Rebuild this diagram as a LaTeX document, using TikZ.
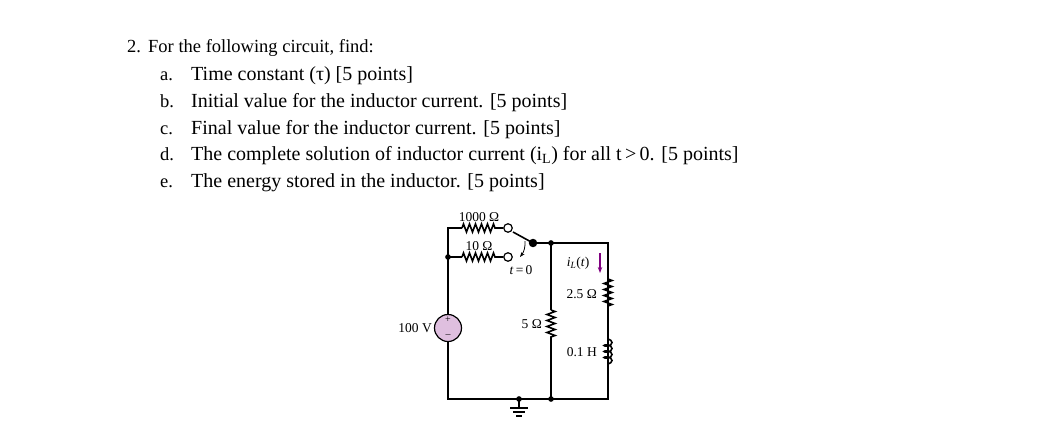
\documentclass[tikz,border=0pt]{standalone}
\usepackage{fontspec}
\setmainfont{Liberation Serif}
\usetikzlibrary{decorations.pathmorphing,arrows.meta}
\begin{document}
\begin{tikzpicture}[x=1pt,y=-1pt,
  txt/.style={anchor=base west,inner sep=0,font=\fontsize{18.5}{20}\selectfont},
  itm/.style={anchor=base west,inner sep=0,font=\fontsize{20}{22}\selectfont},
  lbl/.style={inner sep=1pt,font=\fontsize{13.5}{14}\selectfont},
  wire/.style={line width=1.6pt},
  res/.style={wire,decorate,decoration={zigzag,amplitude=4pt,segment length=6pt}},
  coilst/.style={wire,decorate,decoration={coil,aspect=0.5,amplitude=4pt,segment length=6pt}},
  dot/.style={circle,fill,inner sep=2pt},
  open/.style={circle,draw,line width=1.2pt,fill=white,inner sep=3pt}]
\useasboundingbox (0,0) rectangle (1048,423);
\node[txt] (q) at (127,52) {2.};
\node[txt] at (148,52) {For the following circuit, find:};
\node[txt] at (160,80) {a.};  \node[itm] at (191,80) {Time constant (\symbol{"03C4}) [5 points]};
\node[txt] at (160,107) {b.}; \node[itm] at (191,107) {Initial value for the inductor current. [5 points]};
\node[txt] at (160,134) {c.}; \node[itm] at (191,134) {Final value for the inductor current. [5 points]};
\node[txt] at (160,160) {d.}; \node[itm] at (191,160) {The complete solution of inductor current (i\textsubscript{L}) for all t\,>\,0. [5 points]};
\node[txt] at (160,187) {e.}; \node[itm] at (191,187) {The energy stored in the inductor. [5 points]};
% coordinates
\coordinate (tl) at (448,228);
\coordinate (ml) at (448,257);
\coordinate (bl) at (448,399);
\coordinate (sw) at (533,243);
\coordinate (tm) at (551,243);
\coordinate (bm) at (551,399);
\coordinate (tr) at (608,243);
\coordinate (br) at (608,399);
\coordinate (gnd) at (519,399);
\node[open] (c1) at (508,228) {};
\node[open] (c2) at (508,257) {};
\node[circle,draw,line width=1.2pt,fill=violet!25,minimum size=27pt,inner sep=0] (src) at (448,328) {};
\node[font=\fontsize{10}{10}\selectfont,inner sep=0] at (448,320) {+};
\node[font=\fontsize{10}{10}\selectfont,inner sep=0] at (448,336) {--};
\node[lbl,anchor=east] at (433,328) {100 V};
% wires
\draw[wire] (src.north) -- (tl) -- (462,228);
\draw[res] (462,228) -- (496,228);
\draw[wire] (496,228) -- (c1);
\draw[wire] (ml) -- (462,257);
\draw[res] (462,257) -- (496,257);
\draw[wire] (496,257) -- (c2);
\node[lbl] at (479,217) {1000 \symbol{"03A9}};
\node[lbl] at (479,246) {10 \symbol{"03A9}};
\draw[wire] (src.south) -- (bl) -- (br) -- (tr) -- (sw);
\node[dot,inner sep=3pt] at (sw) {};
\draw[wire] (sw) -- (513,232);
\draw[line width=0.8pt,-{Stealth[length=5pt]}] (525,241) to[bend left=20] (520,257);
\node[lbl] at (521,270) {\textit{t}\,=\,0};
\node[dot] at (ml) {};
\node[dot] at (tm) {};
\node[dot] at (bm) {};
\node[dot] at (gnd) {};
% 5 ohm
\draw[wire] (tm) -- (551,310);
\draw[res] (551,310) -- (551,338);
\draw[wire] (551,338) -- (bm);
\node[lbl,anchor=east] at (543,324) {5 \symbol{"03A9}};
% 2.5 ohm & inductor
\draw[res] (608,279) -- (608,308);
\draw[coilst] (608,339) -- (608,366);
\node[lbl,anchor=east] at (598,294) {2.5 \symbol{"03A9}};
\node[lbl,anchor=east] at (598,352) {0.1 H};
\node[lbl] at (578,263) {\textit{i\textsubscript{L}}(\textit{t})};
\draw[violet,line width=1.2pt,-{Stealth[length=6pt]}] (600,253) -- (600,273);
% ground
\draw[wire] (gnd) -- (519,408);
\draw[line width=1.2pt] (510,408) -- (528,408) (513,412) -- (525,412) (516,416) -- (522,416);
\end{tikzpicture}
\end{document}
